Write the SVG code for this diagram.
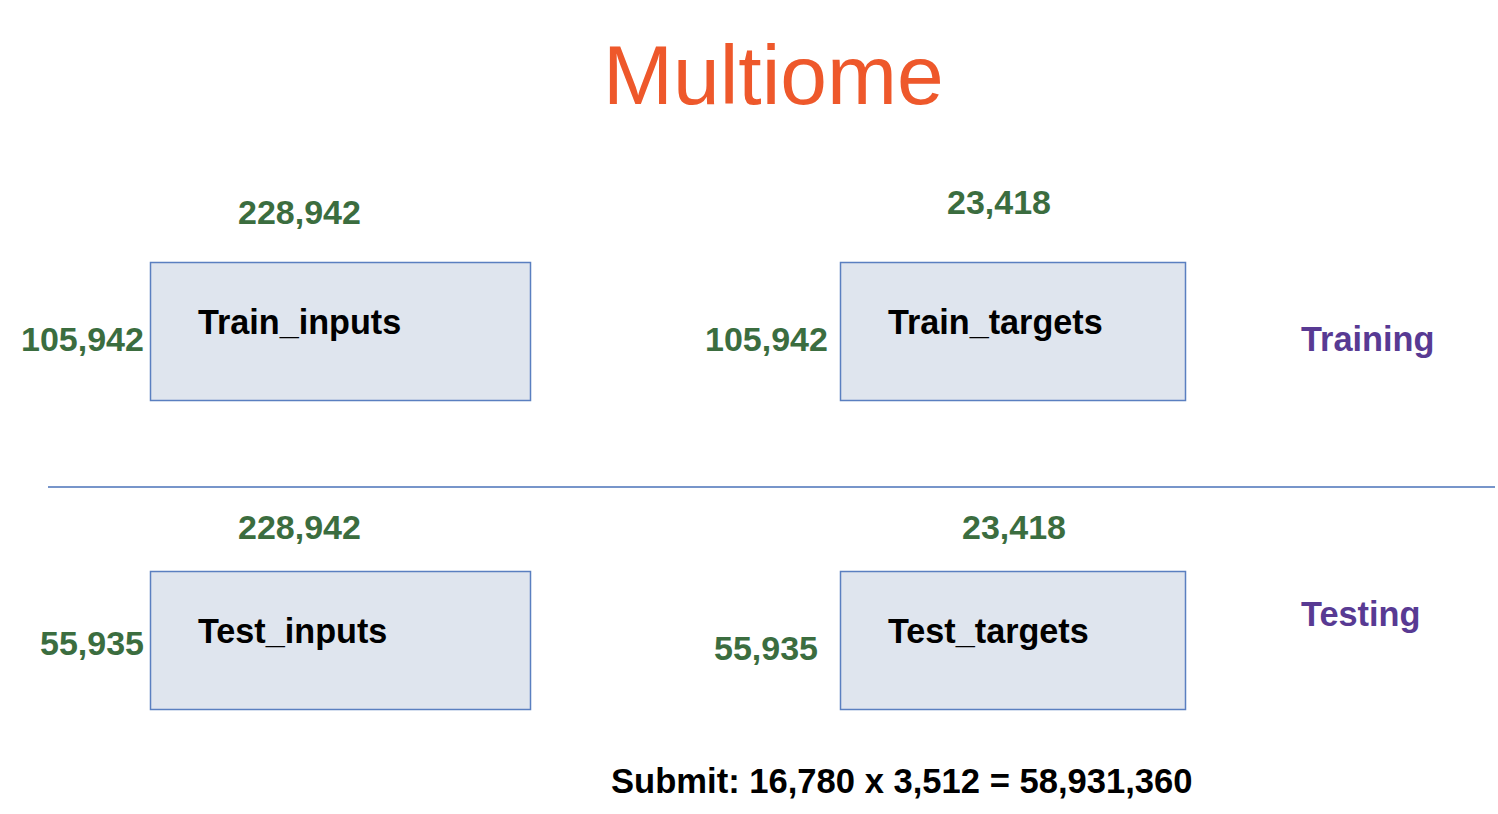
<svg xmlns="http://www.w3.org/2000/svg" width="1498" height="814" viewBox="0 0 1498 814">
<style>
.bg{fill:#ffffff}
.box{fill:#dfe5ee;stroke:#5a7fc0;stroke-width:1.5}
.lbl{font-family:"Liberation Sans",Arial,sans-serif;font-weight:bold;font-size:34.2px;fill:#000000}
.num{font-family:"Liberation Sans",Arial,sans-serif;font-weight:bold;font-size:34px;fill:#3b6d3f}
.phase{font-family:"Liberation Sans",Arial,sans-serif;font-weight:bold;font-size:34.3px;fill:#583a93}
.title{font-family:"Liberation Sans",Arial,sans-serif;font-size:84px;fill:#ee582b}
.sep{stroke:#4a72b8;stroke-width:1.5}
</style>
<rect class="bg" x="0" y="0" width="1498" height="814"/>
<text class="title" x="603" y="104">Multiome</text>
<g id="connectors">
<line class="sep" x1="48" y1="487" x2="1495" y2="487"/>
</g>
<g id="train_inputs">
<rect class="box" x="150.5" y="262.5" width="380" height="138"/>
<text class="lbl" x="198" y="334">Train_inputs</text>
<text class="num" x="238" y="224">228,942</text>
<text class="num" x="21" y="351">105,942</text>
</g>
<g id="train_targets">
<rect class="box" x="840.5" y="262.5" width="345" height="138"/>
<text class="lbl" x="888" y="334">Train_targets</text>
<text class="num" x="947" y="214">23,418</text>
<text class="num" x="705" y="351">105,942</text>
</g>
<g id="test_inputs">
<rect class="box" x="150.5" y="571.5" width="380" height="138"/>
<text class="lbl" x="198" y="643">Test_inputs</text>
<text class="num" x="238" y="539">228,942</text>
<text class="num" x="40" y="655">55,935</text>
</g>
<g id="test_targets">
<rect class="box" x="840.5" y="571.5" width="345" height="138"/>
<text class="lbl" x="888" y="643">Test_targets</text>
<text class="num" x="962" y="539">23,418</text>
<text class="num" x="714" y="660">55,935</text>
</g>
<g id="phases">
<text class="phase" x="1301" y="351">Training</text>
<text class="phase" x="1301" y="626">Testing</text>
</g>
<g id="submit">
<text class="lbl" x="611" y="793" style="font-size:34.6px">Submit: 16,780 x 3,512 = 58,931,360</text>
</g>
</svg>
